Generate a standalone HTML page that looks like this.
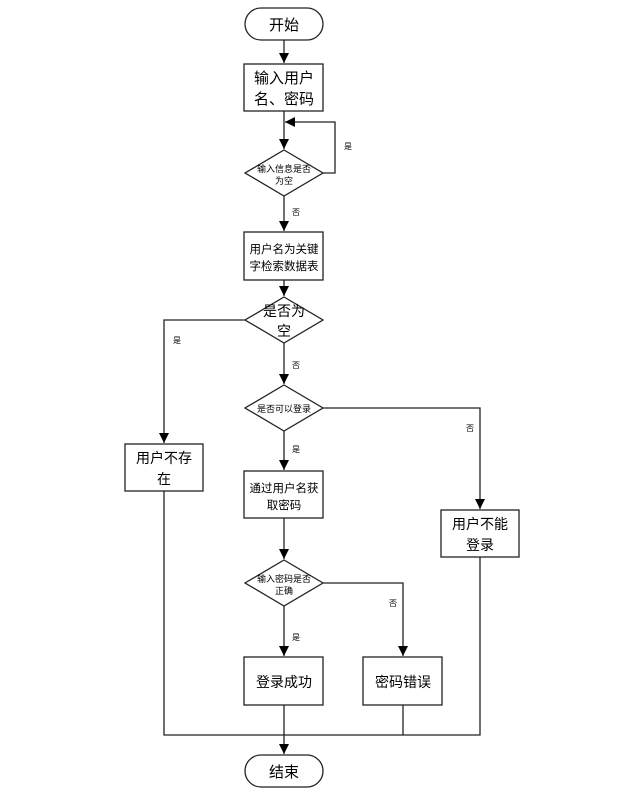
<!DOCTYPE html>
<html><head><meta charset="utf-8"><style>
html,body{margin:0;padding:0;background:#fff;width:624px;height:791px;overflow:hidden}
text{font-family:"Liberation Sans","Noto Sans CJK SC",sans-serif;fill:#000}
</style></head><body>
<svg width="624" height="791" viewBox="0 0 624 791" xmlns="http://www.w3.org/2000/svg">
<defs><marker id="a" markerWidth="12" markerHeight="12" refX="10" refY="5" orient="auto" markerUnits="userSpaceOnUse"><path d="M0,0 L10,5 L0,10 z" fill="#000"/></marker></defs>
<g fill="#fff" stroke="#222" stroke-width="1.3">
<rect x="245" y="8" width="78" height="32" rx="16"/>
<rect x="244" y="64" width="79" height="47"/>
<polygon points="284,150 323,173 284,196 245,173"/>
<rect x="244" y="232" width="79" height="48"/>
<polygon points="284,297 323,320 284,343 245,320"/>
<rect x="125" y="444" width="78" height="47"/>
<polygon points="284,385 323,408 284,431 245,408"/>
<rect x="244" y="471" width="79" height="47"/>
<rect x="441" y="510" width="78" height="47"/>
<polygon points="284,560 323,583 284,606 245,583"/>
<rect x="244" y="657" width="79" height="48"/>
<rect x="363" y="657" width="79" height="48"/>
<rect x="245" y="755" width="78" height="32" rx="16"/>
</g>
<g fill="none" stroke="#222" stroke-width="1.3">
<line x1="284" y1="40" x2="284" y2="63" marker-end="url(#a)"/>
<line x1="284" y1="111" x2="284" y2="149" marker-end="url(#a)"/>
<polyline points="323,173 335,173 335,122 285,122" marker-end="url(#a)"/>
<line x1="284" y1="196" x2="284" y2="231" marker-end="url(#a)"/>
<line x1="284" y1="280" x2="284" y2="296" marker-end="url(#a)"/>
<polyline points="245,320 164,320 164,443" marker-end="url(#a)"/>
<line x1="284" y1="343" x2="284" y2="384" marker-end="url(#a)"/>
<polyline points="323,408 480,408 480,509" marker-end="url(#a)"/>
<line x1="284" y1="431" x2="284" y2="470" marker-end="url(#a)"/>
<line x1="284" y1="518" x2="284" y2="559" marker-end="url(#a)"/>
<polyline points="323,583 403,583 403,656" marker-end="url(#a)"/>
<line x1="284" y1="606" x2="284" y2="656" marker-end="url(#a)"/>
<polyline points="164,491 164,735 480,735 480,557"/>
<line x1="403" y1="705" x2="403" y2="735"/>
<line x1="284" y1="705" x2="284" y2="754" marker-end="url(#a)"/>
</g>
<g text-anchor="middle">
<text x="284" y="30" font-size="15">开始</text>
<text x="284" y="83" font-size="15">输入用户</text>
<text x="284" y="104" font-size="15">名、密码</text>
<text x="284" y="172" font-size="9">输入信息是否</text>
<text x="284" y="184" font-size="9">为空</text>
<text x="284" y="253" font-size="11.5">用户名为关键</text>
<text x="284" y="270" font-size="11.5">字检索数据表</text>
<text x="284" y="316" font-size="14">是否为</text>
<text x="284" y="336" font-size="14">空</text>
<text x="284" y="412" font-size="9">是否可以登录</text>
<text x="164" y="463" font-size="14">用户不存</text>
<text x="164" y="484" font-size="14">在</text>
<text x="284" y="492" font-size="11.5">通过用户名获</text>
<text x="284" y="509" font-size="11.5">取密码</text>
<text x="480" y="529" font-size="14">用户不能</text>
<text x="480" y="550" font-size="14">登录</text>
<text x="284" y="582" font-size="9">输入密码是否</text>
<text x="284" y="594" font-size="9">正确</text>
<text x="284" y="687" font-size="14">登录成功</text>
<text x="403" y="687" font-size="14">密码错误</text>
<text x="284" y="777" font-size="15">结束</text>
</g>
<g font-size="8">
<text x="344" y="149">是</text>
<text x="292" y="215">否</text>
<text x="173" y="343">是</text>
<text x="292" y="368">否</text>
<text x="466" y="431">否</text>
<text x="292" y="452">是</text>
<text x="389" y="606">否</text>
<text x="292" y="640">是</text>
</g>
</svg>
</body></html>
